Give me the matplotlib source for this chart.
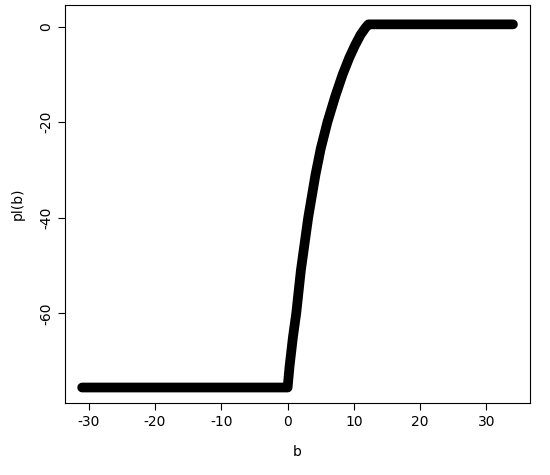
import matplotlib.pyplot as plt

plt.rcParams['axes.unicode_minus'] = False

# points
b = [-31, -20, -10, -2, 0, 0.3, 0.8, 1.3, 2.0, 3.1, 4.2, 5.0, 6.0, 7.2, 8.3, 9.3, 10.2, 11.0, 11.7, 12.2, 20, 30, 34]
pl = [-75.5, -75.5, -75.5, -75.5, -75.5, -71, -65, -60, -51, -40, -31, -25.5, -20, -14.5, -10, -6.5, -3.8, -1.7, -0.3, 0.5, 0.5, 0.5, 0.5]

fig = plt.figure(figsize=(5.5, 4.75), dpi=100)
ax = fig.add_axes([0.118, 0.152, 0.846, 0.838])
ax.plot(b, pl, color='black', linewidth=7, solid_capstyle='round')
ax.set_xlim(-33.6, 36.6)
ax.set_ylim(-78.7, 4.6)
ax.set_xticks([-30, -20, -10, 0, 10, 20, 30])
ax.set_yticks([0, -20, -40, -60])
for lab in ax.get_yticklabels():
    lab.set_rotation(90)
    lab.set_va('center')
ax.tick_params(labelsize=10, direction='out', length=5)
ax.set_xlabel('b', fontsize=10, labelpad=12)
ax.set_ylabel('pl(b)', fontsize=10, labelpad=10)
fig.savefig('out.png')
